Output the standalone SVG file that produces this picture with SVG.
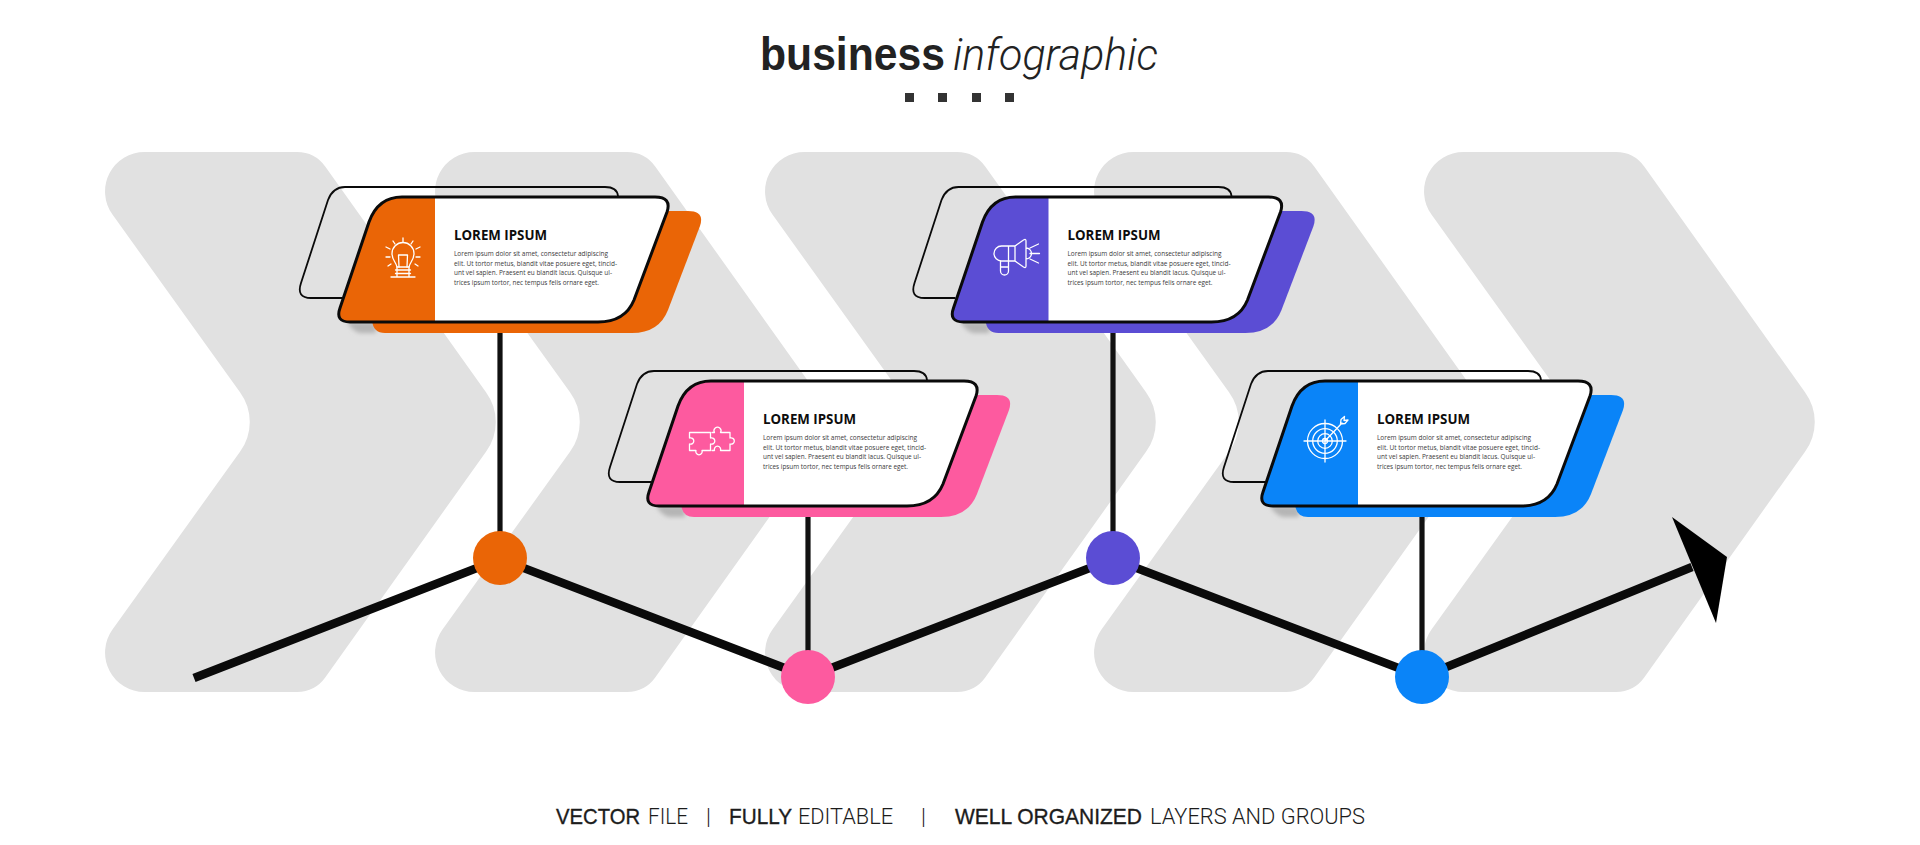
<svg xmlns="http://www.w3.org/2000/svg" width="1920" height="845" viewBox="0 0 1920 845">
<style>
.ttl{font-family:"Open Sans","Liberation Sans",sans-serif;font-weight:700;font-size:14.500px;fill:#0d0d0d}
.bd{font-family:"Open Sans","Liberation Sans",sans-serif;font-size:8px;fill:#3a3a3a}
.ic{fill:none;stroke:#fff;stroke-width:1.3;stroke-linecap:round;stroke-linejoin:round}
.out{fill:none;stroke:#0a0a0a;stroke-width:3}
.bk{fill:none;stroke:#0a0a0a;stroke-width:1.8}
.ft{font-size:22px;fill:#1c1c1c}
.fb{font-family:"Liberation Sans",sans-serif;stroke:#1c1c1c;stroke-width:.35}
.fr{font-family:"Roboto","Liberation Sans",sans-serif;font-weight:300}
.stem{fill:none;stroke:#111;stroke-width:5.2}
</style>
<defs>
<path id="chev" d="M144.500,152 H297 A35,35 0 0 1 325.400,166.700 L486,392.300 A50,50 0 0 1 486,451.700 L325.400,677.300 A35,35 0 0 1 297,692 H144.500 A39.500,39.500 0 0 1 112.300,629.700 L240,451.700 A50,50 0 0 0 240,392.300 L112.300,214.300 A39.500,39.500 0 0 1 144.500,152 Z"/>
<path id="cBack" d="M618,196 Q617,187 605,187 H345 Q333,187 328,200 L301,283 Q296,298 311,298 H342"/>
<path id="cShade" d="M347,322 H376 V333 H360 Q352,331 347,322 Z"/>
<path id="cOff" d="M400,211 H688 Q705,211 700,226 L668,310 Q659,333 632,333 H385 Q373,333 372,320 Z"/>
<path id="cWhite" d="M402,197 H655 Q672,197 667,212 L634,300 Q625,322 598,322 H350 Q335,322 340,308 L369,222 Q378,197 402,197 Z"/>
<path id="cTab" d="M435,197 H402 Q378,197 369,222 L340,308 Q335,322 350,322 H435 Z"/>
<filter id="blur" x="-30%" y="-30%" width="160%" height="160%"><feGaussianBlur stdDeviation="2"/></filter>
</defs>
<rect width="1920" height="845" fill="#fff"/>
<g id="chevrons" fill="#e1e1e1">
<use href="#chev"/>
<use href="#chev" x="330"/>
<use href="#chev" x="660"/>
<use href="#chev" x="989"/>
<use href="#chev" x="1319"/>
</g>
<g id="header">
<text x="760" y="70" font-family="Liberation Sans, sans-serif" font-weight="700" font-size="46" fill="#222" textLength="185" lengthAdjust="spacingAndGlyphs">business</text>
<text x="953" y="70" font-family="Roboto, Liberation Sans, sans-serif" font-weight="300" font-style="italic" font-size="45" fill="#222" textLength="205" lengthAdjust="spacingAndGlyphs">infographic</text>
<g fill="#333"><rect x="905" y="93" width="9" height="9"/><rect x="938" y="93" width="9" height="9"/><rect x="972" y="93" width="9" height="9"/><rect x="1005" y="93" width="9" height="9"/></g>
</g>
<g id="connectors">
<polyline points="194,678 500,559 808,677 1113,559 1422,677 1692,567" fill="none" stroke="#0a0a0a" stroke-width="8.500"/>
<polygon points="1672,517 1727,557 1716,623" fill="#000"/>
<line class="stem" x1="500" y1="333" x2="500" y2="540"/>
<line class="stem" x1="808" y1="517" x2="808" y2="660"/>
<line class="stem" x1="1113" y1="333" x2="1113" y2="540"/>
<line class="stem" x1="1422" y1="517" x2="1422" y2="660"/>
</g>
<g id="node1">
<circle cx="500" cy="558" r="27" fill="#ea6506"/>
<use href="#cBack" class="bk"/>
<use href="#cShade" fill="#b5b5b5" filter="url(#blur)"/>
<use href="#cOff" fill="#ea6506"/>
<use href="#cWhite" fill="#fff"/>
<use href="#cTab" fill="#ea6506"/>
<use href="#cWhite" class="out"/>
<g class="ic" stroke-width="1.1">
<path d="M397,267 C396,262 392,260 392,253.500 A11,11 0 1 1 414,253.500 C414,260 410,262 409,267 Z"/>
<path d="M399,267 L398.500,255 H407.500 L407,267 M395.500,270 H410.500 M395.500,273.500 H410.500 M397,267 V277 M409,267 V277 M391,277 H415"/>
<path d="M403,238 V242 M393,241 L395,244 M413,241 L411,244 M386,247 L390,249 M420,247 L416,249 M386,257 H390 M416,257 H420 M388,266 L391,264 M418,266 L415,264"/>
</g>
<text class="ttl" x="454" y="240" textLength="93" lengthAdjust="spacingAndGlyphs">LOREM IPSUM</text>
<text class="bd" x="454" y="256" textLength="154" lengthAdjust="spacingAndGlyphs">Lorem ipsum dolor sit amet, consectetur adipiscing</text>
<text class="bd" x="454" y="265.700" textLength="163" lengthAdjust="spacingAndGlyphs">elit. Ut tortor metus, blandit vitae posuere eget, tincid-</text>
<text class="bd" x="454" y="275.400" textLength="158" lengthAdjust="spacingAndGlyphs">unt vel sapien. Praesent eu blandit lacus. Quisque ul-</text>
<text class="bd" x="454" y="285.100" textLength="145" lengthAdjust="spacingAndGlyphs">trices ipsum tortor, nec tempus felis ornare eget.</text>
</g>
<g id="node2">
<circle cx="808" cy="677" r="27" fill="#fd5a9f"/>
<g transform="translate(309,184)">
<use href="#cBack" class="bk"/>
<use href="#cShade" fill="#b5b5b5" filter="url(#blur)"/>
<use href="#cOff" fill="#fd5a9f"/>
<use href="#cWhite" fill="#fff"/>
<use href="#cTab" fill="#fd5a9f"/>
<use href="#cWhite" class="out"/>
<path class="ic" d="M380.500,248.500 H401.500 V254 a3.200,3.200 0 1 1 0,6 V266.500 H393 a3.200,3.200 0 1 1 -6,0 H380.500 V260 a3.200,3.200 0 1 0 0,-6 Z"/>
<path class="ic" d="M403,248.500 H405.500 a3.500,3.500 0 1 1 6,0 H421 V254 a3.200,3.200 0 1 1 0,6 V266.500 H411.500 a3.200,3.200 0 1 0 -6,0 H403"/>
<text class="ttl" x="454" y="240" textLength="93" lengthAdjust="spacingAndGlyphs">LOREM IPSUM</text>
<text class="bd" x="454" y="256" textLength="154" lengthAdjust="spacingAndGlyphs">Lorem ipsum dolor sit amet, consectetur adipiscing</text>
<text class="bd" x="454" y="265.700" textLength="163" lengthAdjust="spacingAndGlyphs">elit. Ut tortor metus, blandit vitae posuere eget, tincid-</text>
<text class="bd" x="454" y="275.400" textLength="158" lengthAdjust="spacingAndGlyphs">unt vel sapien. Praesent eu blandit lacus. Quisque ul-</text>
<text class="bd" x="454" y="285.100" textLength="145" lengthAdjust="spacingAndGlyphs">trices ipsum tortor, nec tempus felis ornare eget.</text>
</g>
</g>
<g id="node3">
<circle cx="1113" cy="558" r="27" fill="#5b4dd4"/>
<g transform="translate(613.500,0)">
<use href="#cBack" class="bk"/>
<use href="#cShade" fill="#b5b5b5" filter="url(#blur)"/>
<use href="#cOff" fill="#5b4dd4"/>
<use href="#cWhite" fill="#fff"/>
<use href="#cTab" fill="#5b4dd4"/>
<use href="#cWhite" class="out"/>
<path class="ic" d="M401.500,246 H388 a7.500,7.500 0 0 0 0,15 H401.500 Z M395,246 V261 M401.500,246 L410,240 Q412.500,238.500 412.500,241 V266 Q412.500,268.500 410,267 L401.500,261 M387,261 V271 a4,4 0 0 0 8,0 V261 M387,267 H395 M412.500,248 a5.500,5.500 0 0 1 0,11 M416.500,248 L425,244 M416.500,253.500 H426 M416.500,259 L425,263"/>
<text class="ttl" x="454" y="240" textLength="93" lengthAdjust="spacingAndGlyphs">LOREM IPSUM</text>
<text class="bd" x="454" y="256" textLength="154" lengthAdjust="spacingAndGlyphs">Lorem ipsum dolor sit amet, consectetur adipiscing</text>
<text class="bd" x="454" y="265.700" textLength="163" lengthAdjust="spacingAndGlyphs">elit. Ut tortor metus, blandit vitae posuere eget, tincid-</text>
<text class="bd" x="454" y="275.400" textLength="158" lengthAdjust="spacingAndGlyphs">unt vel sapien. Praesent eu blandit lacus. Quisque ul-</text>
<text class="bd" x="454" y="285.100" textLength="145" lengthAdjust="spacingAndGlyphs">trices ipsum tortor, nec tempus felis ornare eget.</text>
</g>
</g>
<g id="node4">
<circle cx="1422" cy="677" r="27" fill="#0a84f8"/>
<g transform="translate(923,184)">
<use href="#cBack" class="bk"/>
<use href="#cShade" fill="#b5b5b5" filter="url(#blur)"/>
<use href="#cOff" fill="#0a84f8"/>
<use href="#cWhite" fill="#fff"/>
<use href="#cTab" fill="#0a84f8"/>
<use href="#cWhite" class="out"/>
<g class="ic">
<circle cx="402" cy="257" r="17.500"/><circle cx="402" cy="257" r="12.300"/><circle cx="402" cy="257" r="7.300"/><circle cx="402" cy="257" r="2.500"/>
<path d="M381,257 H423 M402,236 V278 M402,257 L419,239 M418,235.500 L417.500,240 L422,239.500 L425,236 L421,236.500 L421.500,232.500 Z"/>
</g>
<text class="ttl" x="454" y="240" textLength="93" lengthAdjust="spacingAndGlyphs">LOREM IPSUM</text>
<text class="bd" x="454" y="256" textLength="154" lengthAdjust="spacingAndGlyphs">Lorem ipsum dolor sit amet, consectetur adipiscing</text>
<text class="bd" x="454" y="265.700" textLength="163" lengthAdjust="spacingAndGlyphs">elit. Ut tortor metus, blandit vitae posuere eget, tincid-</text>
<text class="bd" x="454" y="275.400" textLength="158" lengthAdjust="spacingAndGlyphs">unt vel sapien. Praesent eu blandit lacus. Quisque ul-</text>
<text class="bd" x="454" y="285.100" textLength="145" lengthAdjust="spacingAndGlyphs">trices ipsum tortor, nec tempus felis ornare eget.</text>
</g>
</g>
<g id="footer">
<text class="ft fb" x="556" y="824" textLength="84" lengthAdjust="spacingAndGlyphs">VECTOR</text>
<text class="ft fr" x="648" y="824" textLength="40" lengthAdjust="spacingAndGlyphs">FILE</text>
<text class="ft fr" x="706" y="824">|</text>
<text class="ft fb" x="729" y="824" textLength="63" lengthAdjust="spacingAndGlyphs">FULLY</text>
<text class="ft fr" x="798" y="824" textLength="95" lengthAdjust="spacingAndGlyphs">EDITABLE</text>
<text class="ft fr" x="921" y="824">|</text>
<text class="ft fb" x="955" y="824" textLength="187" lengthAdjust="spacingAndGlyphs">WELL ORGANIZED</text>
<text class="ft fr" x="1150" y="824" textLength="215" lengthAdjust="spacingAndGlyphs">LAYERS AND GROUPS</text>
</g>
</svg>
